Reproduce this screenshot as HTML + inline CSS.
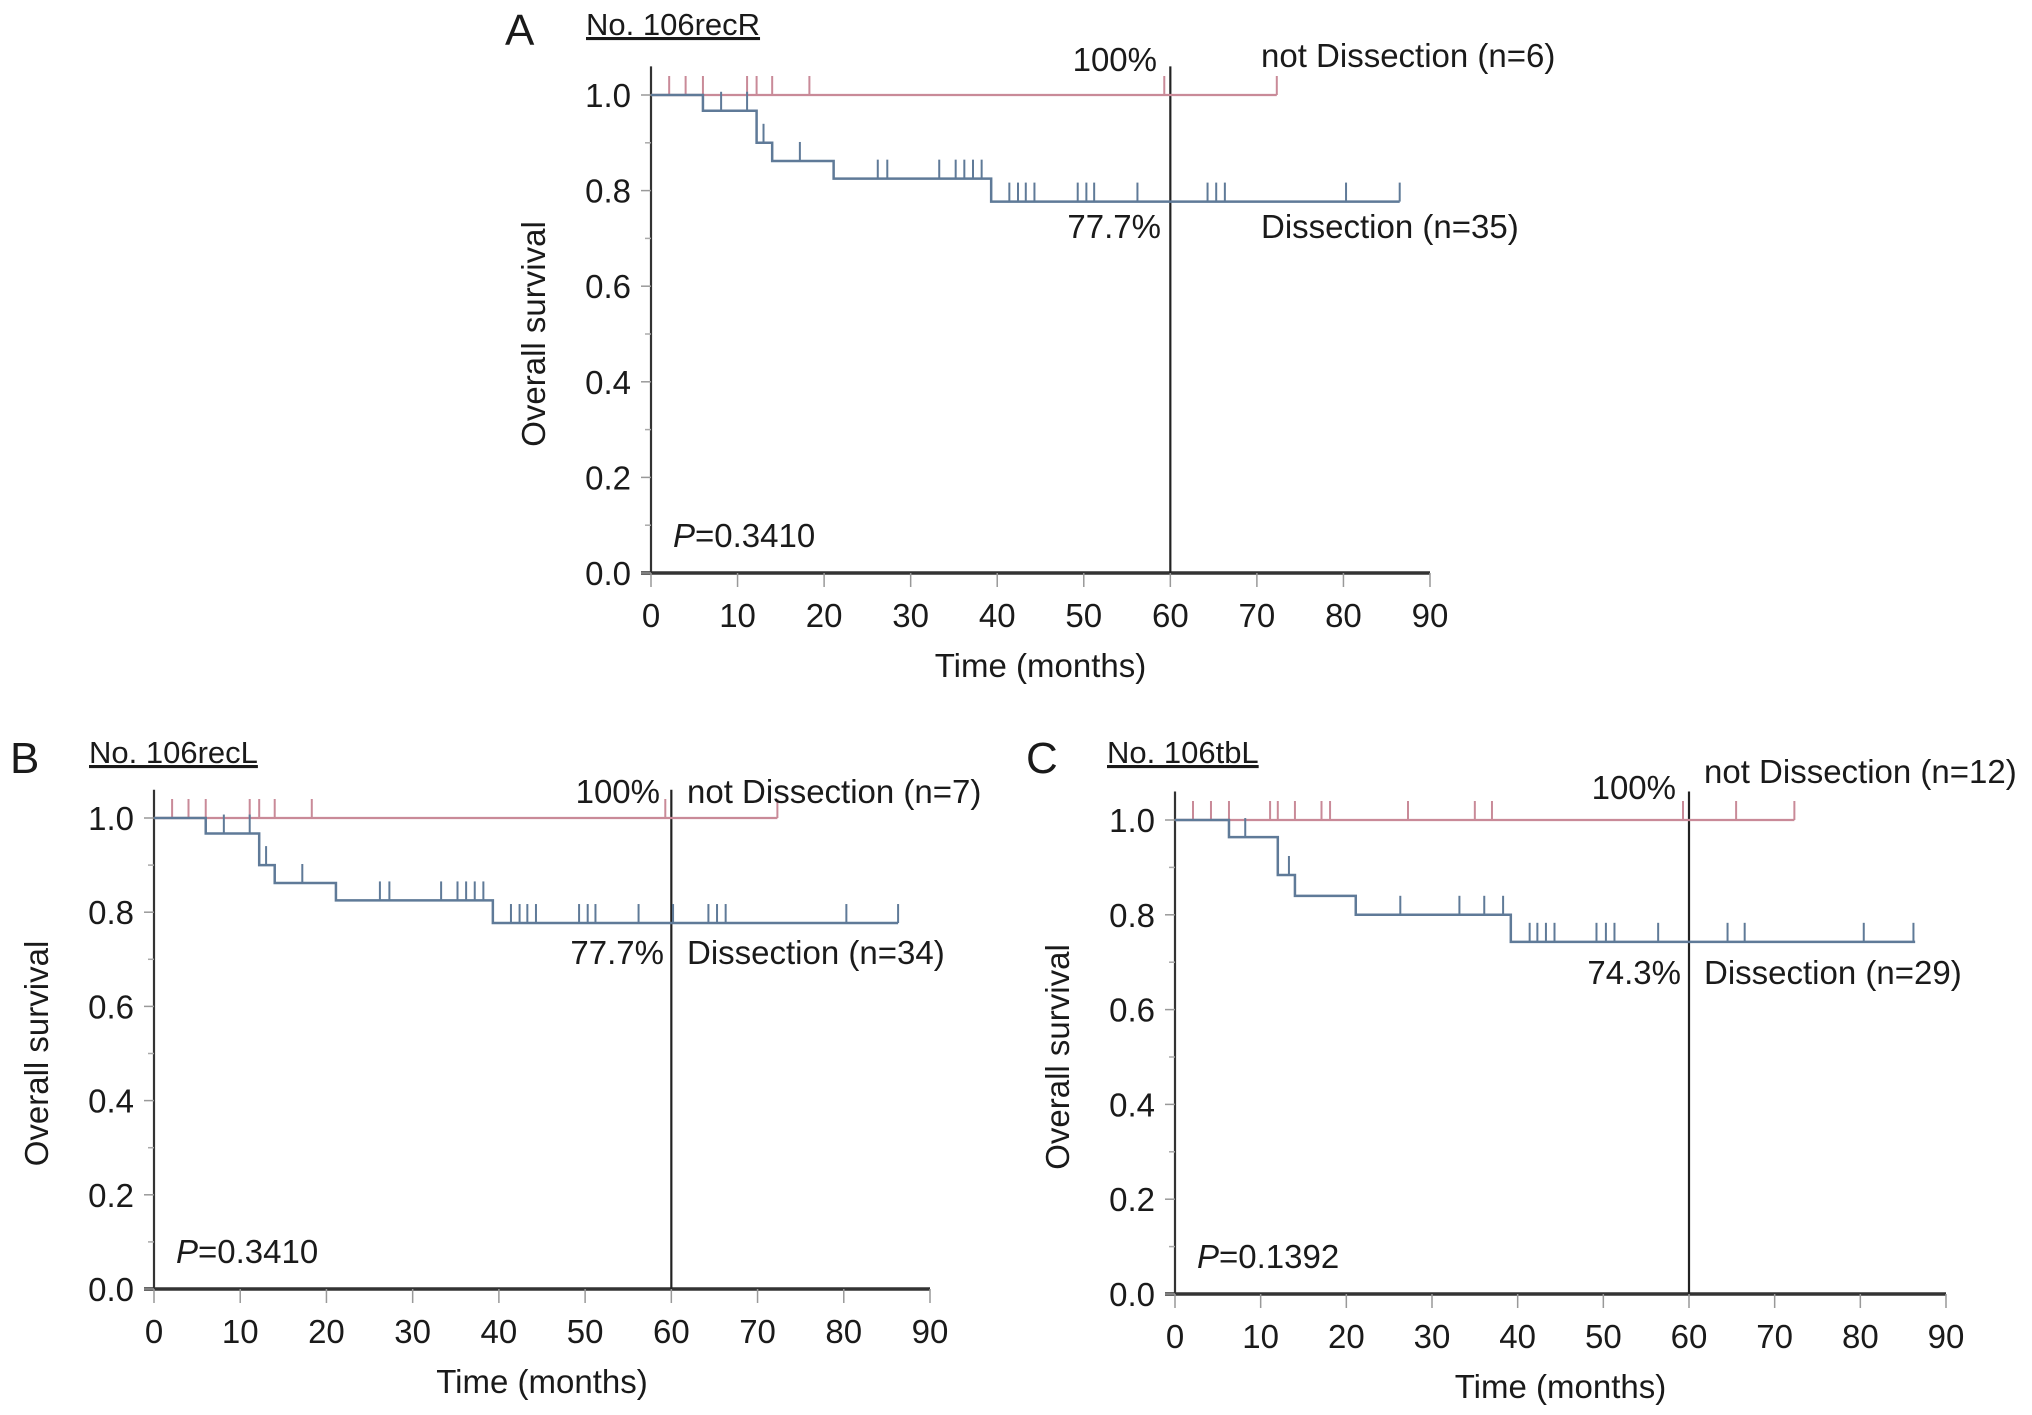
<!DOCTYPE html>
<html><head><meta charset="utf-8"><style>
html,body{margin:0;padding:0;background:#fff}
svg{display:block}
text{font-family:"Liberation Sans",sans-serif;fill:#1a1a1a}
</style></head><body>
<svg id="fig" width="2032" height="1415" viewBox="0 0 2032 1415" xmlns="http://www.w3.org/2000/svg"></svg>
<script>
// Panel A data (No. 106recR)
const aBlueSteps = [6.0, 12.2, 14.0, 21.1, 39.3];
const aBlueLevels = [1.0, 0.967, 0.90, 0.862, 0.825, 0.777];
const aBlueEnd = [86.5];
const aBlueCens = [8.1, 11.1, 13.0, 17.2, 26.2, 27.3, 33.3, 35.2, 36.2, 37.2, 38.2, 41.4, 42.4, 43.3, 44.3, 49.3, 50.3, 51.2, 56.2, 64.3, 65.3, 66.3, 80.3, 86.5];
const aRedEnd = [72.3];
const aRedCens = [2.1, 4.0, 6.0, 11.1, 12.2, 14.0, 18.3, 59.3, 72.3];
// Panel B data (No. 106recL)
const bBlueSteps = [6.0, 12.2, 14.0, 21.1, 39.3];
const bBlueLevels = [1.0, 0.967, 0.90, 0.862, 0.825, 0.777];
const bBlueEnd = [86.3];
const bBlueCens = [8.1, 11.1, 13.0, 17.2, 26.2, 27.3, 33.3, 35.2, 36.2, 37.2, 38.2, 41.4, 42.4, 43.3, 44.3, 49.3, 50.3, 51.2, 56.2, 60.2, 64.3, 65.3, 66.3, 80.3, 86.3];
const bRedEnd = [72.3];
const bRedCens = [2.1, 4.0, 6.0, 11.1, 12.2, 14.0, 18.3, 59.3, 72.3];
// Panel C data (No. 106tbL)
const cBlueSteps = [6.3, 12.0, 14.0, 21.1, 39.2];
const cBlueLevels = [1.0, 0.964, 0.884, 0.84, 0.80, 0.743];
const cBlueEnd = [86.4];
const cBlueCens = [8.2, 13.3, 26.3, 33.2, 36.1, 38.3, 41.4, 42.3, 43.3, 44.3, 49.2, 50.3, 51.3, 56.4, 64.5, 66.5, 80.4, 86.2];
const cRedEnd = [72.3];
const cRedCens = [2.1, 4.2, 6.3, 11.1, 12.0, 14.0, 17.1, 18.1, 27.2, 35.0, 37.0, 59.3, 65.5, 72.3];
const xTicks = [0, 10, 20, 30, 40, 50, 60, 70, 80, 90];
const yTicks = [0.0, 0.2, 0.4, 0.6, 0.8, 1.0];
const yMinor = [0.1, 0.3, 0.5, 0.7, 0.9];

const NS = "http://www.w3.org/2000/svg";
const svg = document.getElementById('fig');
function mk(tag, attrs, parent, txt){
  const e = document.createElementNS(NS, tag);
  for (const k in attrs) e.setAttribute(k, attrs[k]);
  if (txt !== undefined) e.textContent = txt;
  (parent || svg).appendChild(e);
  return e;
}
const BLUE = "#5f7a98", RED = "#c98a98";
const FS = 33;

function panel(cfg){
  const g = mk('g', {});
  
  
  const X = v => cfg.x0 + (v / 90) * (cfg.x90 - cfg.x0);
  const Y = v => cfg.y0 - v * (cfg.y0 - cfg.y1);
  const ya = mk('line', {x1: X(0), y1: Y(1.06), x2: X(0), y2: Y(0), stroke: '#333', 'stroke-width': 2.2}, g);
  
  
  const xa = mk('line', {x1: X(0) - 10, y1: Y(0), x2: X(90), y2: Y(0), stroke: '#333', 'stroke-width': 3.5}, g);
  
  
  xTicks.forEach(t => {
    mk('line', {x1: X(t), y1: Y(0), x2: X(t), y2: Y(0) + 14, stroke: '#999', 'stroke-width': 1.5}, g);
    const lb = mk('text', {x: X(t), y: Y(0) + 54, 'text-anchor': 'middle', 'font-size': FS}, g, String(t));
    
    
  });
  yTicks.forEach(t => {
    mk('line', {x1: X(0) - 10, y1: Y(t), x2: X(0), y2: Y(t), stroke: '#999', 'stroke-width': 1.5}, g);
    const lb = mk('text', {x: X(0) - 20, y: Y(t) + 12, 'text-anchor': 'end', 'font-size': FS}, g, t.toFixed(1));
    
    
  });
  yMinor.forEach(t => {
    mk('line', {x1: X(0) - 6, y1: Y(t), x2: X(0), y2: Y(t), stroke: '#aaa', 'stroke-width': 1.5}, g);
  });
  const ref = mk('line', {x1: X(60), y1: Y(1.06), x2: X(60), y2: Y(0), stroke: '#222', 'stroke-width': 2.2}, g);
  
  
  const rl = mk('line', {x1: X(0), y1: Y(1), x2: X(cfg.redEnd[0]), y2: Y(1), stroke: RED, 'stroke-width': 2.2}, g);
  
  
  cfg.redCens.forEach(t => {
    const c = mk('line', {x1: X(t), y1: Y(1), x2: X(t), y2: Y(1) - 19, stroke: RED, 'stroke-width': 2}, g);
    
    
  });
  let d = 'M' + X(0) + ' ' + Y(cfg.levels[0]);
  cfg.steps.forEach((s, i) => {
    d += ' H' + X(s) + ' V' + Y(cfg.levels[i + 1]);
  });
  d += ' H' + X(cfg.blueEnd[0]);
  const bp = mk('path', {d: d, fill: 'none', stroke: BLUE, 'stroke-width': 2.5}, g);
  
  
  const levelAt = t => {
    let lv = cfg.levels[0];
    cfg.steps.forEach((s, i) => { if (t >= s) lv = cfg.levels[i + 1]; });
    return lv;
  };
  cfg.blueCens.forEach(t => {
    const lv = levelAt(t);
    const c = mk('line', {x1: X(t), y1: Y(lv), x2: X(t), y2: Y(lv) - 19, stroke: BLUE, 'stroke-width': 2}, g);
    
    
  });
  const L = (name, attrs, txt) => {
    const e = mk('text', attrs, g, txt);
    
    
    return e;
  };
  L('panel-letter', {x: cfg.letter[0], y: cfg.letter[1], 'font-size': 44}, cfg.id.toUpperCase());
  L('panel-title', {x: cfg.title[0], y: cfg.title[1], 'font-size': 31, 'text-decoration': 'underline'}, cfg.titleText);
  L('not-dissection-percent', {x: cfg.pct1[0], y: cfg.pct1[1], 'font-size': FS, 'text-anchor': 'end'}, '100%');
  L('not-dissection-label', {x: cfg.lab1[0], y: cfg.lab1[1], 'font-size': FS}, cfg.lab1Text);
  L('dissection-percent', {x: cfg.pct2[0], y: cfg.pct2[1], 'font-size': FS, 'text-anchor': 'end'}, cfg.pct2Text);
  L('dissection-label', {x: cfg.lab2[0], y: cfg.lab2[1], 'font-size': FS}, cfg.lab2Text);
  const p = L('p-value', {x: X(0) + 22, y: Y(0) - 26, 'font-size': FS}, '');
  mk('tspan', {'font-style': 'italic'}, p, 'P');
  mk('tspan', {}, p, '=' + cfg.p);
  L('x-axis-title', {x: X(45), y: Y(0) + 104, 'font-size': FS, 'text-anchor': 'middle'}, 'Time (months)');
  const cy = (Y(0) + Y(1)) / 2;
  L('y-axis-title', {x: 0, y: 0, 'font-size': FS, 'text-anchor': 'middle', transform: 'translate(' + (X(0) - 106) + ',' + cy + ') rotate(-90)'}, 'Overall survival');
}

panel({id: 'a', x0: 651, x90: 1430, y0: 573, y1: 95,
  steps: aBlueSteps, levels: aBlueLevels, blueEnd: aBlueEnd, blueCens: aBlueCens, redEnd: aRedEnd, redCens: aRedCens,
  letter: [505, 45], title: [586, 35], titleText: 'No. 106recR',
  pct1: [1157, 71], lab1: [1261, 67], lab1Text: 'not Dissection (n=6)',
  pct2: [1161, 238], pct2Text: '77.7%', lab2: [1261, 238], lab2Text: 'Dissection (n=35)', p: '0.3410'});
panel({id: 'b', x0: 154, x90: 930, y0: 1289, y1: 818,
  steps: bBlueSteps, levels: bBlueLevels, blueEnd: bBlueEnd, blueCens: bBlueCens, redEnd: bRedEnd, redCens: bRedCens,
  letter: [10, 773], title: [89, 763], titleText: 'No. 106recL',
  pct1: [660, 803], lab1: [687, 803], lab1Text: 'not Dissection (n=7)',
  pct2: [664, 964], pct2Text: '77.7%', lab2: [687, 964], lab2Text: 'Dissection (n=34)', p: '0.3410'});
panel({id: 'c', x0: 1175, x90: 1946, y0: 1294, y1: 820,
  steps: cBlueSteps, levels: cBlueLevels, blueEnd: cBlueEnd, blueCens: cBlueCens, redEnd: cRedEnd, redCens: cRedCens,
  letter: [1026, 773], title: [1107, 763], titleText: 'No. 106tbL',
  pct1: [1676, 799], lab1: [1704, 783], lab1Text: 'not Dissection (n=12)',
  pct2: [1681, 984], pct2Text: '74.3%', lab2: [1704, 984], lab2Text: 'Dissection (n=29)', p: '0.1392'});
</script>
</body></html>
